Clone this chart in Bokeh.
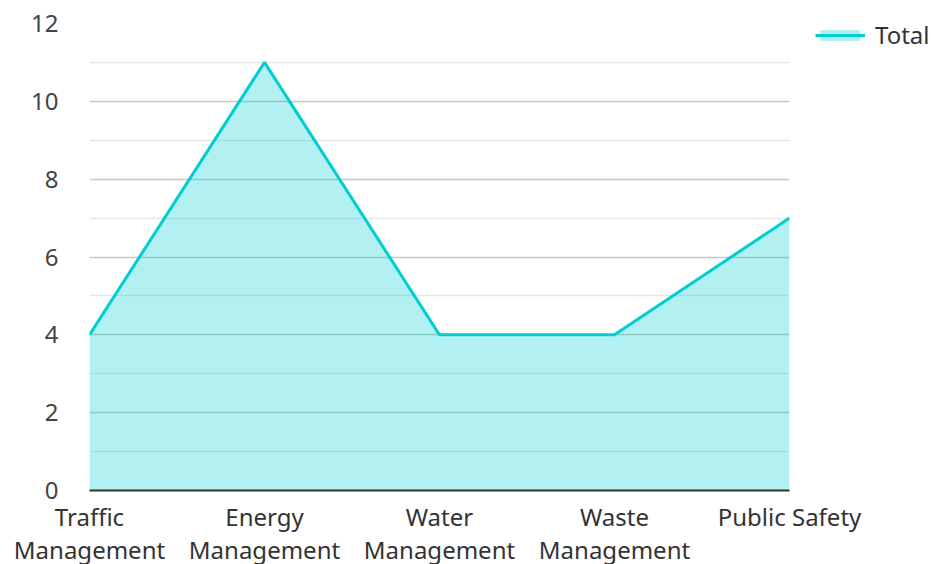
from bokeh.plotting import figure
from bokeh.models import FixedTicker, Legend, LegendItem
from bokeh.embed import file_html
from bokeh.resources import INLINE

categories = ["Traffic\nManagement", "Energy\nManagement", "Water\nManagement",
              "Waste\nManagement", "Public Safety"]
totals = [4, 11, 4, 4, 7]
y_ticks = [0, 2, 4, 6, 8, 10, 12]
y_minor = [1, 3, 5, 7, 9, 11]

xs = list(range(len(categories)))
FONT = "Noto Sans"
LINE = "#00CED1"

p = figure(frame_width=700, frame_height=467, output_backend="svg", toolbar_location=None,
           x_range=(0, len(categories) - 1), y_range=(0, 12),
           min_border_left=89, min_border_right=142, min_border_top=23, min_border_bottom=74)
p.outline_line_color = None

area = p.varea(x=xs, y1=[0] * len(xs), y2=totals, fill_color=LINE, fill_alpha=0.3)
ln = p.line(x=xs, y=totals, line_color=LINE, line_width=3)

p.xaxis.ticker = FixedTicker(ticks=xs)
p.xaxis.major_label_overrides = {i: c for i, c in enumerate(categories)}
p.xaxis.axis_line_color = "#333333"
p.xaxis.axis_line_width = 2
p.xaxis.major_tick_line_color = None
p.xaxis.minor_tick_line_color = None
p.xaxis.major_tick_out = 0
p.xaxis.major_label_standoff = 9
p.xaxis.major_label_text_font = FONT
p.xaxis.major_label_text_font_size = "24px"
p.xaxis.major_label_text_line_height = 1.0
p.xaxis.major_label_text_color = "#333333"
p.xgrid.grid_line_color = None

p.yaxis.ticker = FixedTicker(ticks=y_ticks, minor_ticks=y_minor)
p.yaxis.axis_line_color = None
p.yaxis.major_tick_line_color = None
p.yaxis.minor_tick_line_color = None
p.yaxis.major_tick_out = 0
p.yaxis.major_label_standoff = 27
p.yaxis.major_label_text_font = FONT
p.yaxis.major_label_text_font_size = "24px"
p.yaxis.major_label_text_color = "#444444"
p.ygrid.grid_line_color = "#c8c8c8"
p.ygrid.grid_line_width = 1.5
p.ygrid.minor_grid_line_color = "#e6e6e6"
p.ygrid.minor_grid_line_width = 1.5

legend = Legend(items=[LegendItem(label="Total", renderers=[area, ln])],
                location=(26, 439), orientation="vertical",
                border_line_color=None, background_fill_alpha=0,
                glyph_width=50, glyph_height=14, label_standoff=10,
                label_text_font=FONT, label_text_font_size="24px",
                label_text_color="#333333", padding=0, margin=0)
p.add_layout(legend, "right")

open("out.html", "w").write(file_html(p, INLINE))
